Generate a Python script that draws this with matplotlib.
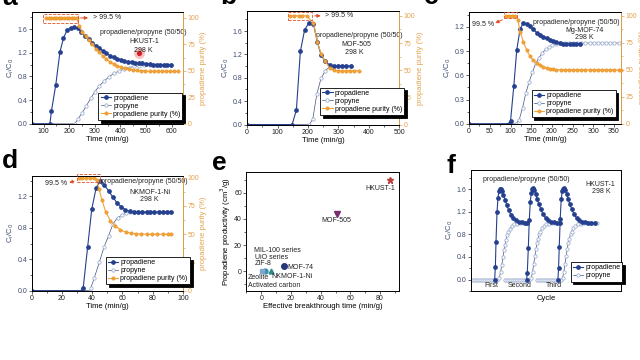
import matplotlib.pyplot as plt
from matplotlib.patches import Rectangle
from matplotlib.ticker import MultipleLocator, FormatStrFormatter

plt.rcParams['font.family'] = ['Liberation Sans', 'DejaVu Sans']
plt.rcParams['font.size'] = 5

# ---- panel a: HKUST-1 ----
a_t_diene = [55, 125, 131, 148, 164, 178, 192, 206, 220, 234, 248, 262, 276, 290, 304, 318, 332, 346, 360, 374,
             388, 402, 416, 430, 444, 458, 472, 486, 500, 514, 528, 542, 556, 570, 584, 598]
a_c_diene = [0, 0, 0.22, 0.66, 1.21, 1.45, 1.58, 1.62, 1.63, 1.61, 1.55, 1.49, 1.43, 1.37, 1.32, 1.28, 1.23, 1.19,
             1.15, 1.12, 1.10, 1.08, 1.06, 1.05, 1.04, 1.03, 1.02, 1.02, 1.01, 1.01, 1.0, 1.0, 1.0, 1.0, 1.0, 1.0]
a_t_yne = [55, 222, 234, 250, 267, 284, 300, 318, 336, 355, 374, 394, 414, 434, 454, 474, 494, 514, 534, 554, 574, 598]
a_c_yne = [0, 0, 0.08, 0.18, 0.30, 0.43, 0.54, 0.64, 0.72, 0.79, 0.85, 0.89, 0.93, 0.95, 0.97, 0.98, 0.99, 1.0,
           1.0, 1.0, 1.0, 1.0]
a_t_pur = [110, 120, 130, 140, 150, 160, 170, 180, 190, 200, 210, 220, 230, 240, 252, 264, 277, 290, 304, 318,
           332, 346, 360, 374, 388, 402, 418, 434, 450, 466, 482, 498, 514, 530, 546, 562, 578, 594, 610, 626]
a_p_pur = [100, 100, 100, 100, 100, 100, 100, 100, 100, 100, 100, 100, 99.5, 92, 87, 83, 79, 75, 71, 67.5,
           64, 61, 58.5, 56.5, 55, 53.5, 52.5, 51.5, 51, 50.5, 50, 50, 49.5, 49.5, 49.5, 49.5, 49.5, 49.5, 49.5, 49.5]

# ---- panel b: MOF-505 ----
b_t_diene = [0, 148, 162, 175, 189, 203, 218, 231, 243, 257, 271, 284, 298, 311, 325, 340]
b_c_diene = [0, 0, 0.25, 1.25, 1.62, 1.74, 1.72, 1.41, 1.19, 1.08, 1.02, 1.0, 1.0, 1.0, 1.0, 1.0]
b_t_yne = [0, 205, 216, 229, 243, 257, 271, 284, 298, 311, 325, 340]
b_c_yne = [0, 0, 0.10, 0.52, 0.79, 0.92, 0.99, 1.0, 1.0, 1.0, 1.0, 1.0]
b_t_pur = [142, 155, 169, 182, 196, 218, 231, 243, 257, 271, 284, 298, 311, 325, 338, 352, 366]
b_p_pur = [100, 100, 100, 100, 100, 93.5, 76, 65, 58, 52, 50, 49.5, 49.5, 49.5, 49.5, 49.5, 49.5]

# ---- panel c: Mg-MOF-74 ----
c_t_diene = [0, 97, 100, 108, 115, 123, 131, 139, 147, 155, 163, 171, 179, 187, 195, 203, 211, 219, 227, 235,
             243, 251, 259, 267]
c_c_diene = [0, 0, 0.03, 0.47, 0.91, 1.17, 1.25, 1.24, 1.21, 1.17, 1.13, 1.10, 1.08, 1.06, 1.04, 1.02, 1.01,
             1.0, 0.99, 0.99, 0.99, 0.99, 0.99, 0.99]
c_t_yne = [0, 113, 121, 129, 137, 145, 153, 161, 169, 177, 185, 193, 201, 211, 221, 231, 241, 251, 261, 271,
           281, 291, 301, 311, 321, 331, 341, 351, 361]
c_c_yne = [0, 0, 0.05, 0.20, 0.38, 0.52, 0.64, 0.75, 0.82, 0.88, 0.92, 0.95, 0.97, 0.985, 1.0, 1.0, 1.0, 1.0,
           1.0, 1.0, 1.0, 1.0, 1.0, 1.0, 1.0, 1.0, 1.0, 1.0, 1.0]
c_t_pur = [88, 96, 104, 112, 118, 123, 131, 139, 147, 155, 163, 171, 179, 187, 195, 203, 211, 221, 231, 241,
           251, 261, 271, 281, 291, 301, 311, 321, 331, 341, 351, 361, 367]
c_p_pur = [100, 100, 100, 100, 96, 85, 76, 68, 62.5, 58.5, 56, 54, 52.5, 51.5, 51, 50.5, 50, 49.8, 49.8, 49.8,
           49.8, 49.8, 49.8, 49.8, 49.8, 49.8, 49.8, 49.8, 49.8, 49.8, 49.8, 49.8, 49.8]

# ---- panel d: NKMOF-1-Ni ----
d_t_diene = [0, 33, 34, 37, 39.7, 42.6, 45.3, 47.9, 50.8, 53.7, 56.3, 59, 61.8, 64.7, 67.3, 70, 73, 76, 78.5,
             81, 84, 87, 89.5, 92]
d_c_diene = [0, 0, 0.03, 0.56, 1.04, 1.31, 1.40, 1.35, 1.27, 1.19, 1.12, 1.07, 1.03, 1.01, 1.0, 1.0, 1.0, 1.0,
             1.0, 1.0, 1.0, 1.0, 1.0, 1.0]
d_t_yne = [0, 38.5, 39, 41.3, 44.8, 47.9, 50.8, 53.7, 56.7, 59.5, 62, 64.7, 67.5, 70, 73, 76, 78.5, 81, 84, 87, 90]
d_c_yne = [0, 0, 0.03, 0.16, 0.37, 0.56, 0.70, 0.85, 0.93, 0.96, 0.99, 1.0, 1.0, 1.0, 1.0, 1.0, 1.0, 1.0, 1.0,
           1.0, 1.0]
d_t_pur = [31, 33.5, 36, 38.5, 41, 43, 44.5, 46.5, 49, 52, 55, 58.5, 62, 65.5, 69, 72.5, 76, 79.5, 83, 86.5, 90, 92]
d_p_pur = [99.5, 99.5, 99.5, 99.5, 99.5, 98, 90, 80, 69.5, 62, 57.5, 54, 52, 51, 50.5, 50.2, 50, 50, 50, 50, 50, 50]

# ---- panel e: productivity vs breakthrough time ----
e_x = [86.8, 50.7, 15.1, 6.3, 2.5, 0.5]
e_y = [69.9, 44.0, 3.8, 0.3, 0.3, 0.3]
e_markers = ['*', 'v', 'o', '^', 'o', 's']
e_colors = ['#b5413a', '#7a2e6e', '#27357a', '#2b8a8c', '#3d8fa6', '#7fa7cf']
e_sizes = [5, 4, 4, 3.5, 3.5, 3.5]

# ---- panel f: cycles (arbitrary x units) ----
f1_x_diene = [72, 74, 76, 79, 82, 85, 88, 91, 94, 98, 103, 108, 114, 120, 128, 136, 144, 153, 162, 170]
f1_c_diene = [0, 0.22, 0.67, 1.19, 1.45, 1.56, 1.61, 1.61, 1.57, 1.50, 1.41, 1.32, 1.23, 1.15, 1.09, 1.05, 1.02,
              1.01, 1.0, 1.0]
f1_x_yne = [8, 14, 20, 26, 32, 38, 44, 50, 56, 62, 68, 74, 80, 86, 90, 93, 97, 100, 103, 106, 110, 113, 118, 124,
            131, 140, 150, 160, 170]
f1_c_yne = [0, 0, 0, 0, 0, 0, 0, 0, 0, 0, 0, 0, 0, 0.03, 0.14, 0.25, 0.40, 0.52, 0.62, 0.70, 0.79, 0.84, 0.90,
            0.95, 0.98, 0.99, 1.0, 1.0, 1.0]
f2_x_diene = [168, 170, 173, 176, 179, 182, 185, 188, 191, 195, 200, 205, 211, 217, 225, 233, 241, 250, 259, 268]
f2_c_diene = [0, 0.12, 0.55, 1.05, 1.38, 1.53, 1.60, 1.62, 1.59, 1.52, 1.42, 1.33, 1.24, 1.16, 1.09, 1.05, 1.02,
              1.01, 1.0, 1.0]
f2_x_yne = [104, 110, 116, 122, 128, 134, 140, 146, 152, 158, 164, 170, 176, 182, 186, 189, 193, 196, 199, 202,
            206, 209, 214, 220, 227, 236, 246, 256, 268]
f2_c_yne = [0, 0, 0, 0, 0, 0, 0, 0, 0, 0, 0, 0, 0, 0.03, 0.14, 0.27, 0.42, 0.54, 0.64, 0.72, 0.80, 0.85, 0.91,
            0.95, 0.98, 0.99, 1.0, 1.0, 1.0]
f3_x_diene = [262, 264, 266, 269, 272, 275, 278, 281, 284, 288, 293, 298, 304, 310, 318, 326, 334, 343, 352, 362,
              372]
f3_c_diene = [0, 0.2, 0.58, 1.08, 1.43, 1.56, 1.61, 1.62, 1.58, 1.51, 1.42, 1.33, 1.24, 1.16, 1.09, 1.05, 1.02,
              1.01, 1.0, 1.0, 1.0]
f3_x_yne = [198, 204, 210, 216, 222, 228, 234, 240, 246, 252, 258, 264, 270, 276, 280, 283, 287, 290, 293, 296,
            300, 303, 308, 314, 321, 330, 340, 350, 360, 370, 378]
f3_c_yne = [0, 0, 0, 0, 0, 0, 0, 0, 0, 0, 0, 0, 0, 0.03, 0.14, 0.27, 0.42, 0.54, 0.64, 0.72, 0.80, 0.85, 0.91,
            0.95, 0.98, 0.99, 1.0, 1.0, 1.0, 1.0, 1.0]

BLUE = '#25408f'
YNE_EDGE = '#9fb0cf'
YNE_LINE = '#44507a'
ORANGE = '#f2a33a'
ORANGE_AX = '#e3a24d'
RED = '#e0502a'
TXT = '#222222'


def style_left(ax):
    ax.tick_params(which='both', direction='out', width=0.5, colors=TXT, labelsize=5, pad=1)
    ax.tick_params(which='major', length=2.2)
    ax.tick_params(which='minor', length=1.2)
    ax.tick_params(axis='y', labelcolor='#3b4a6b')
    for s in ax.spines.values():
        s.set_linewidth(0.7)


def legend_box(ax, handles, anchor):
    leg = ax.legend(handles=handles, loc='lower left', bbox_to_anchor=anchor, fontsize=5, handlelength=1.5,
                    handletextpad=0.3, labelspacing=0.15, borderpad=0.3, borderaxespad=0, fancybox=False,
                    framealpha=1, edgecolor='black', shadow={'color': 'black', 'alpha': 1})
    leg.get_frame().set_linewidth(0.6)
    return leg


def breakthrough(fig, rect, td, cd, ty, cy, tp, pp, xlim, ylim, ylim2, xmaj, xmin, ymaj, ymin, leg_anchor):
    ax = fig.add_axes(rect)
    l1, = ax.plot(td, cd, '-o', color=BLUE, ms=2.4, lw=0.8, label='propadiene', zorder=3)
    l2, = ax.plot(ty, cy, '-o', color=YNE_LINE, ms=2.4, lw=0.5, mfc='white', mec=YNE_EDGE, mew=0.6,
                  label='propyne', zorder=2)
    ax.set_xlim(*xlim)
    ax.set_ylim(*ylim)
    ax.xaxis.set_major_locator(MultipleLocator(xmaj))
    ax.xaxis.set_minor_locator(MultipleLocator(xmin))
    ax.yaxis.set_major_locator(MultipleLocator(ymaj))
    ax.yaxis.set_minor_locator(MultipleLocator(ymin))
    ax.yaxis.set_major_formatter(FormatStrFormatter('%.1f'))
    style_left(ax)
    ax.set_xlabel('Time (min/g)', fontsize=5.5, labelpad=0.5)
    ax.set_ylabel('C$_i$/C$_0$', fontsize=5.5, labelpad=1, color='#3b4a6b')
    ax2 = ax.twinx()
    l3, = ax2.plot(tp, pp, '-o', color=ORANGE, ms=2.4, lw=0.8, mec='#e8901c', mew=0.4,
                   label='propadiene purity (%)', clip_on=False)
    ax2.set_ylim(*ylim2)
    ax2.yaxis.set_major_locator(MultipleLocator(25))
    ax2.yaxis.set_minor_locator(MultipleLocator(12.5))
    ax2.tick_params(which='both', direction='out', width=0.5, colors=ORANGE_AX, labelsize=5, pad=1)
    ax2.tick_params(which='major', length=2.2)
    ax2.tick_params(which='minor', length=1.2)
    ax2.spines['right'].set_color(ORANGE_AX)
    for s in ax2.spines.values():
        s.set_linewidth(0.7)
    ax2.spines['right'].set_color(ORANGE_AX)
    ax2.set_ylabel('propadiene purity (%)', fontsize=5.5, color=ORANGE_AX, labelpad=1)
    legend_box(ax2, [l1, l2, l3], leg_anchor)
    return ax, ax2


fig = plt.figure(figsize=(6.4, 3.6), dpi=100)

# a
ax, ax2 = breakthrough(fig, [0.050, 0.656, 0.236, 0.311], a_t_diene, a_c_diene, a_t_yne, a_c_yne, a_t_pur, a_p_pur,
                       (55, 645), (0, 1.89), (0, 105.7), 100, 50, 0.4, 0.2, (0.44, 0.036))
ax2.add_patch(Rectangle((97, 95.5), 137, 8.3, fill=False, ls='--', lw=0.6, ec=RED, zorder=4))
ax2.annotate('', xy=(285, 100), xytext=(234, 100),
             arrowprops=dict(arrowstyle='-|>', color=RED, lw=0.7, mutation_scale=5))
ax2.text(292, 100, '> 99.5 %', fontsize=5, va='center', ha='left', color=TXT)
ax.text(0.74, 0.80, 'propadiene/propyne (50/50)', transform=ax.transAxes, fontsize=5, ha='center', color=TXT)
ax.text(0.74, 0.72, 'HKUST-1', transform=ax.transAxes, fontsize=5, ha='center', color=TXT)
ax.scatter([0.71], [0.635], s=60, color='#f08080', alpha=0.5, transform=ax.transAxes, zorder=5, lw=0)
ax.scatter([0.71], [0.635], s=14, color='#d42020', transform=ax.transAxes, zorder=6, lw=0)
ax.text(0.74, 0.64, '298 K', transform=ax.transAxes, fontsize=5, ha='center', color=TXT, zorder=7)

# b
ax, ax2 = breakthrough(fig, [0.386, 0.654, 0.238, 0.315], b_t_diene, b_c_diene, b_t_yne, b_c_yne, b_t_pur, b_p_pur,
                       (0, 500), (0, 1.94), (0, 104.3), 100, 50, 0.4, 0.2, (0.48, 0.085))
ax2.add_patch(Rectangle((136, 96), 77, 7.7, fill=False, ls='--', lw=0.6, ec=RED, zorder=4, clip_on=False))
ax2.annotate('', xy=(251, 100), xytext=(213, 100),
             arrowprops=dict(arrowstyle='-|>', color=RED, lw=0.7, mutation_scale=5))
ax2.text(255, 100, '> 99.5 %', fontsize=5, va='center', ha='left', color=TXT)
ax.text(0.74, 0.77, 'propadiene/propyne (50/50)', transform=ax.transAxes, fontsize=5, ha='center', color=TXT)
ax.text(0.72, 0.69, 'MOF-505', transform=ax.transAxes, fontsize=5, ha='center', color=TXT)
ax.text(0.705, 0.625, '298 K', transform=ax.transAxes, fontsize=5, ha='center', color=TXT)

# c
ax, ax2 = breakthrough(fig, [0.733, 0.656, 0.238, 0.312], c_t_diene, c_c_diene, c_t_yne, c_c_yne, c_t_pur, c_p_pur,
                       (0, 368), (0, 1.39), (0, 103.7), 50, 25, 0.3, 0.15, (0.41, 0.06))
ax2.add_patch(Rectangle((85, 97.5), 30, 5.3, fill=False, ls='--', lw=0.6, ec=RED, zorder=4))
ax2.annotate('', xy=(57, 92), xytext=(86, 97),
             arrowprops=dict(arrowstyle='-|>', color=RED, lw=0.7, mutation_scale=5))
ax2.text(33, 92, '99.5 %', fontsize=5, va='center', ha='center', color=TXT)
ax.text(0.705, 0.885, 'propadiene/propyne (50/50)', transform=ax.transAxes, fontsize=5, ha='center', color=TXT)
ax.text(0.76, 0.82, 'Mg-MOF-74', transform=ax.transAxes, fontsize=5, ha='center', color=TXT)
ax.text(0.753, 0.755, '298 K', transform=ax.transAxes, fontsize=5, ha='center', color=TXT)

# d
ax, ax2 = breakthrough(fig, [0.0495, 0.1925, 0.2365, 0.3185], d_t_diene, d_c_diene, d_t_yne, d_c_yne, d_t_pur,
                       d_p_pur, (0, 100), (0, 1.46), (0, 101.5), 20, 10, 0.4, 0.2, (0.49, 0.055))
ax2.add_patch(Rectangle((29.8, 96), 15.5, 7, fill=False, ls='--', lw=0.6, ec=RED, zorder=4, clip_on=False))
ax2.annotate('', xy=(23, 95), xytext=(29.8, 97.5),
             arrowprops=dict(arrowstyle='-|>', color=RED, lw=0.7, mutation_scale=5))
ax2.text(16, 95, '99.5 %', fontsize=5, va='center', ha='center', color=TXT)
ax.text(0.747, 0.935, 'propadiene/propyne (50/50)', transform=ax.transAxes, fontsize=5, ha='center', color=TXT)
ax.text(0.78, 0.84, 'NKMOF-1-Ni', transform=ax.transAxes, fontsize=5, ha='center', color=TXT)
ax.text(0.776, 0.785, '298 K', transform=ax.transAxes, fontsize=5, ha='center', color=TXT)

# e
ax = fig.add_axes([0.385, 0.192, 0.239, 0.331])
for x, y, m, c, s in zip(e_x, e_y, e_markers, e_colors, e_sizes):
    ax.plot([x], [y], m, color=c, ms=s, mec=c)
ax.set_xlim(-10, 93)
ax.set_ylim(-15, 76)
ax.xaxis.set_major_locator(MultipleLocator(20))
ax.xaxis.set_minor_locator(MultipleLocator(10))
ax.yaxis.set_major_locator(MultipleLocator(20))
ax.yaxis.set_minor_locator(MultipleLocator(10))
style_left(ax)
ax.tick_params(axis='y', labelcolor=TXT)
ax.set_xlabel('Effective breakthrough time (min/g)', fontsize=5.5, labelpad=0.5)
ax.set_ylabel('Propadiene productivity (cm$^3$/g)', fontsize=5.5, labelpad=1)
ax.text(90, 63, 'HKUST-1', fontsize=5, ha='right', va='center', color=TXT)
ax.text(50.3, 38.6, 'MOF-505', fontsize=5, ha='center', va='center', color=TXT)
ax.text(17.6, 2.8, 'MOF-74', fontsize=5, ha='left', va='center', color=TXT)
ax.text(6.8, -3.8, 'NKMOF-1-Ni', fontsize=5, ha='left', va='center', color=TXT)
ax.text(-9, -4.6, 'Zeolite', fontsize=5, ha='left', va='center', color=TXT)
ax.text(-9, -10.7, 'Activated carbon', fontsize=5, ha='left', va='center', color=TXT)
ax.text(-4.5, 5.8, 'ZIF-8', fontsize=5, ha='left', va='center', color=TXT)
ax.text(-4.5, 10.2, 'UiO series', fontsize=5, ha='left', va='center', color=TXT)
ax.text(-5, 15.5, 'MIL-100 series', fontsize=5, ha='left', va='center', color=TXT)

# f
ax = fig.add_axes([0.7355, 0.192, 0.2345, 0.336])
for xd, cd, xy, cy in [(f1_x_diene, f1_c_diene, f1_x_yne, f1_c_yne),
                       (f2_x_diene, f2_c_diene, f2_x_yne, f2_c_yne),
                       (f3_x_diene, f3_c_diene, f3_x_yne, f3_c_yne)]:
    hy, = ax.plot(xy, cy, '-o', color=YNE_LINE, ms=2.4, lw=0.5, mfc='white', mec=YNE_EDGE, mew=0.6,
                  label='propyne', zorder=2)
    hd, = ax.plot(xd, cd, '-o', color=BLUE, ms=2.4, lw=0.8, label='propadiene', zorder=3)
ax.set_xlim(0, 451)
ax.set_ylim(-0.2, 1.94)
ax.set_xticks([])
ax.yaxis.set_major_locator(MultipleLocator(0.4))
ax.yaxis.set_minor_locator(MultipleLocator(0.2))
ax.yaxis.set_major_formatter(FormatStrFormatter('%.1f'))
style_left(ax)
ax.set_xlabel('Cycle', fontsize=5.5, labelpad=3)
ax.set_ylabel('C$_i$/C$_0$', fontsize=5.5, labelpad=1, color='#3b4a6b')
for x, lab in zip([63, 146, 251], ['First', 'Second', 'Third']):
    ax.text(x, -0.1, lab, fontsize=5, ha='center', va='center', color=TXT)
ax.text(0.373, 0.917, 'propadiene/propyne (50/50)', transform=ax.transAxes, fontsize=5, ha='center',
        va='center', color=TXT)
ax.text(0.86, 0.88, 'HKUST-1', transform=ax.transAxes, fontsize=5, ha='center', va='center', color=TXT)
ax.text(0.867, 0.82, '298 K', transform=ax.transAxes, fontsize=5, ha='center', va='center', color=TXT)
legend_box(ax, [hd, hy], (0.665, 0.077))

# panel letters
for x, y, lab in [(0.003, 0.986, 'a'), (0.344, 0.989, 'b'), (0.662, 0.989, 'c'),
                  (0.003, 0.533, 'd'), (0.331, 0.528, 'e'), (0.698, 0.519, 'f')]:
    fig.text(x, y, lab, fontsize=19, fontweight='bold', ha='left', va='baseline')

fig.savefig('out.png', dpi=100)
